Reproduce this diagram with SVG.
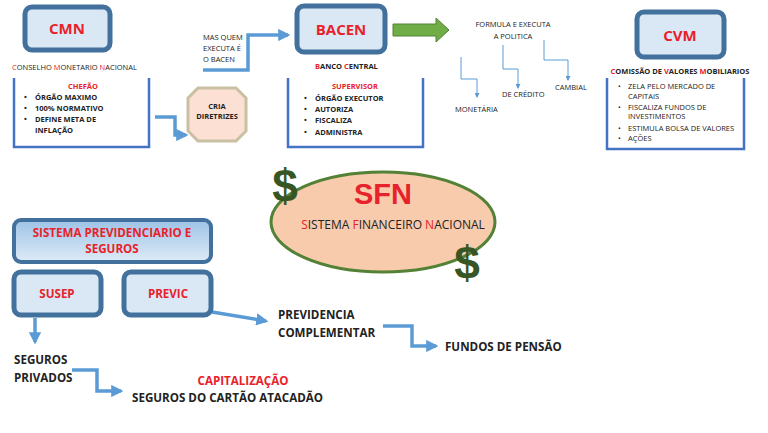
<svg xmlns="http://www.w3.org/2000/svg" width="768" height="433" viewBox="0 0 768 433">
<defs>
<style>
text{font-family:"Open Sans","Liberation Sans",sans-serif;fill:#222}
.t{font-size:15px;font-weight:bold;fill:#e8222a;text-anchor:middle}
.s{font-size:7.5px}
.b{font-size:7.5px;font-weight:bold}
.r{fill:#e8222a}
.big{font-size:11.6px;font-weight:bold}
.hd{fill:#dae8f5;stroke:#41719c;stroke-width:5}
.lst{fill:none;stroke:#4472c4;stroke-width:2.5}
.ar{fill:none;stroke:#5b9bd5;stroke-width:3.5}
.th{fill:none;stroke:#5b9bd5;stroke-width:1}
.dol{font-family:"Liberation Sans",sans-serif;font-size:46px;font-weight:bold;fill:#375623}
</style>
<marker id="ah" viewBox="0 0 10 10" refX="8" refY="5" markerWidth="3.5" markerHeight="3.5" orient="auto"><path d="M0,0L10,5L0,10z" fill="#5b9bd5"/></marker>
<marker id="ah2" viewBox="0 0 10 10" refX="8" refY="5" markerWidth="5" markerHeight="5" orient="auto"><path d="M0,0L10,5L0,10z" fill="#5b9bd5"/></marker>
<linearGradient id="g" x1="0" y1="0" x2="0" y2="1"><stop offset="0" stop-color="#9dc3e6"/><stop offset="1" stop-color="#deebf7"/></linearGradient>
</defs>
<g id="connectors">
<path class="ar" d="M155,117H175V135H186" marker-end="url(#ah)"/>
<path class="ar" d="M203,70H248V35H288" marker-end="url(#ah)"/>
<path d="M393,24H436V18L449,30L436,42V36H393z" fill="#70ad47" stroke="#548235"/>
<path class="th" d="M461,57V79H477V97" marker-end="url(#ah2)"/>
<path class="th" d="M503,45V69H518V88" marker-end="url(#ah2)"/>
<path class="th" d="M544,40V60H568V80" marker-end="url(#ah2)"/>
<path class="ar" d="M212,312L266,321" marker-end="url(#ah)"/>
<path class="ar" d="M35,318V342" marker-end="url(#ah)"/>
<path class="ar" d="M383,326H412V346H436" marker-end="url(#ah)"/>
<path class="ar" d="M72,370H97V391H121" marker-end="url(#ah)"/>
</g>
<g id="cmn">
<rect class="hd" x="25" y="7" width="85" height="43" rx="7"/>
<text class="t" x="67" y="34">CMN</text>
<text class="s" x="12" y="70"><tspan class="r">C</tspan>ONSELHO <tspan class="r">M</tspan>ONETARIO <tspan class="r">N</tspan>ACIONAL</text>
</g>
<g id="cmn-list">
<path class="lst" d="M14,78V147H149V78"/>
<text class="b" x="83" y="89" text-anchor="middle" style="fill:#e8222a">CHEFÃO</text>
<text class="b" x="24" y="100">•</text><text class="b" x="35" y="100">ÓRGÃO MAXIMO</text>
<text class="b" x="24" y="111">•</text><text class="b" x="35" y="111">100% NORMATIVO</text>
<text class="b" x="24" y="122">•</text><text class="b" x="35" y="122">DEFINE META DE</text>
<text class="b" x="35" y="133">INFLAÇÃO</text>
</g>
<g id="cria">
<path d="M198,88H236L246,98V131L236,141H198L188,131V98z" fill="#fbe0d3" stroke="#c9bfa3" stroke-width="3"/>
<text class="b" x="217" y="109" text-anchor="middle">CRIA</text>
<text class="b" x="217" y="119" text-anchor="middle">DIRETRIZES</text>
</g>
<g id="mas">
<text class="s" x="203" y="40">MAS QUEM</text>
<text class="s" x="203" y="51">EXECUTA É</text>
<text class="s" x="203" y="62">O BACEN</text>
</g>
<g id="bacen">
<rect class="hd" x="297" y="6" width="88" height="46" rx="7"/>
<text class="t" x="341" y="35">BACEN</text>
<text class="b" x="315" y="69"><tspan class="r">B</tspan>ANCO <tspan class="r">C</tspan>ENTRAL</text>
</g>
<g id="bacen-list">
<path class="lst" d="M288,78V147H423V78"/>
<text class="b" x="355" y="89" text-anchor="middle" style="fill:#e8222a">SUPERVISOR</text>
<text class="b" x="304" y="101">•</text><text class="b" x="315" y="101">ÓRGÃO EXECUTOR</text>
<text class="b" x="304" y="112">•</text><text class="b" x="315" y="112">AUTORIZA</text>
<text class="b" x="304" y="123">•</text><text class="b" x="315" y="123">FISCALIZA</text>
<text class="b" x="304" y="135">•</text><text class="b" x="315" y="135">ADMINISTRA</text>
</g>
<g id="politica">
<text class="s" x="513" y="27" text-anchor="middle">FORMULA E EXECUTA</text>
<text class="s" x="513" y="39" text-anchor="middle">A POLITICA</text>
<text class="s" x="455" y="112">MONETÁRIA</text>
<text class="s" x="502" y="97">DE CRÉDITO</text>
<text class="s" x="555" y="90">CAMBIAL</text>
</g>
<g id="cvm">
<rect class="hd" x="637" y="12" width="87" height="45" rx="7"/>
<text class="t" x="680" y="41">CVM</text>
<text class="b" x="680" y="74" text-anchor="middle"><tspan class="r">C</tspan>OMISSÃO DE <tspan class="r">V</tspan>ALORES <tspan class="r">M</tspan>OBILIARIOS</text>
</g>
<g id="cvm-list">
<path class="lst" d="M607,78V149H744V78"/>
<g class="s">
<text x="618" y="89">•</text><text x="628" y="89">ZELA PELO MERCADO DE</text>
<text x="628" y="99">CAPITAIS</text>
<text x="618" y="110">•</text><text x="628" y="110">FISCALIZA FUNDOS DE</text>
<text x="628" y="119">INVESTIMENTOS</text>
<text x="618" y="131">•</text><text x="628" y="131">ESTIMULA BOLSA DE VALORES</text>
<text x="618" y="141">•</text><text x="628" y="141">AÇÕES</text>
</g>
</g>
<g id="sfn">
<ellipse cx="383" cy="222" rx="112" ry="50" fill="#f8cbad" stroke="#538135" stroke-width="3"/>
<text x="383" y="204" text-anchor="middle" style="font-size:29px;font-weight:bold;fill:#e8222a;font-family:'Liberation Sans',sans-serif">SFN</text>
<text x="393" y="229" text-anchor="middle" style="font-size:12px"><tspan class="r">S</tspan>ISTEMA <tspan class="r">F</tspan>INANCEIRO <tspan class="r">N</tspan>ACIONAL</text>
<text class="dol" x="285" y="202" text-anchor="middle">$</text>
<text class="dol" x="467" y="279" text-anchor="middle">$</text>
</g>
<g id="sistema">
<rect x="14" y="220" width="197" height="42" rx="7" fill="url(#g)" stroke="#41719c" stroke-width="4"/>
<text class="big r" x="112" y="237" text-anchor="middle">SISTEMA PREVIDENCIARIO E</text>
<text class="big r" x="112" y="253" text-anchor="middle">SEGUROS</text>
</g>
<g id="susep">
<rect class="hd" x="14" y="272" width="87" height="43" rx="7"/>
<text class="big r" x="57" y="298" text-anchor="middle">SUSEP</text>
</g>
<g id="previc">
<rect class="hd" x="124" y="272" width="87" height="43" rx="7"/>
<text class="big r" x="168" y="298" text-anchor="middle">PREVIC</text>
</g>
<g id="previdencia">
<text class="big" x="278" y="319">PREVIDENCIA</text>
<text class="big" x="278" y="337">COMPLEMENTAR</text>
</g>
<g id="fundos"><text class="big" x="445" y="351">FUNDOS DE PENSÃO</text></g>
<g id="seguros">
<text class="big" x="14" y="364">SEGUROS</text>
<text class="big" x="14" y="382">PRIVADOS</text>
</g>
<g id="capitalizacao">
<text class="big r" x="243" y="385" text-anchor="middle">CAPITALIZAÇÃO</text>
<text class="big" x="132" y="402">SEGUROS DO CARTÃO ATACADÃO</text>
</g>
</svg>
